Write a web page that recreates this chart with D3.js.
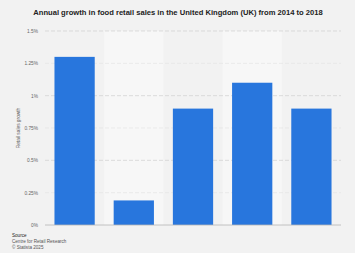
<!DOCTYPE html>
<html>
<head>
<meta charset="utf-8">
<script src="https://cdn.jsdelivr.net/npm/d3@7"></script>
<style>
  body { margin: 0; background: #f2f2f2; }
  svg { display: block; font-family: "Liberation Sans", Arial, sans-serif; }
</style>
</head>
<body>
<svg id="chart" width="355" height="253"></svg>
<script>
const years = ["2014", "2015", "2016", "2017", "2018"];
const growth = [1.30, 0.19, 0.90, 1.10, 0.90];
const tickValues = [0, 0.25, 0.5, 0.75, 1, 1.25, 1.5];
const tickLabels = ["0%", "0.25%", "0.5%", "0.75%", "1%", "1.25%", "1.5%"];

const svg = d3.select("#chart");
const width = +svg.attr("width");
const height = +svg.attr("height");
const margin = { top: 31, right: 14, bottom: 28, left: 45 };
const chartWidth = width - margin.left - margin.right;
const chartHeight = height - margin.top - margin.bottom;

svg.append("rect").attr("width", width).attr("height", height).attr("fill", "#f2f2f2");

svg.append("text")
    .attr("x", 178)
    .attr("y", 15)
    .attr("text-anchor", "middle")
    .style("font-size", "7.6px")
    .style("font-weight", "bold")
    .style("fill", "#222")
    .text("Annual growth in food retail sales in the United Kingdom (UK) from 2014 to 2018");

const g = svg.append("g").attr("transform", `translate(${margin.left},${margin.top})`);

const x = d3.scaleBand().domain(years).range([0, chartWidth]).paddingInner(0.32).paddingOuter(0.16);
const y = d3.scaleLinear().domain([0, 1.5]).range([chartHeight, 0]);

// alternating column shading
g.selectAll(".col")
    .data(years.filter((d, i) => i % 2 === 1))
    .join("rect")
    .attr("x", (d) => x(d) + x.bandwidth() / 2 - x.step() / 2)
    .attr("y", 0)
    .attr("width", x.step())
    .attr("height", chartHeight)
    .attr("fill", "#f7f7f7");

// gridlines
g.selectAll(".grid")
    .data(tickValues.slice(1))
    .join("line")
    .attr("x1", 0)
    .attr("x2", chartWidth)
    .attr("y1", (d) => y(d))
    .attr("y2", (d) => y(d))
    .attr("stroke", (d, i) => (i % 2 === 0 ? "#e4e4e4" : "#d0d0d0"))
    .attr("stroke-width", 0.7)
    .attr("stroke-dasharray", "4,2");

const yAxis = d3.axisLeft(y)
    .tickValues(tickValues)
    .tickFormat((d, i) => tickLabels[i])
    .tickSize(0)
    .tickPadding(7);
const yAxisGroup = g.append("g").call(yAxis);
yAxisGroup.select(".domain").remove();
yAxisGroup.selectAll("text").style("font-size", "4.8px").style("fill", "#666")
    .style("font-family", "Liberation Sans, Arial, sans-serif");

g.selectAll(".bar")
    .data(growth)
    .join("rect")
    .attr("class", "bar")
    .attr("x", (d, i) => x(years[i]))
    .attr("y", (d) => y(d))
    .attr("width", x.bandwidth())
    .attr("height", (d) => chartHeight - y(d))
    .attr("fill", "#2876dd");

g.append("line")
    .attr("x1", 0)
    .attr("x2", chartWidth)
    .attr("y1", chartHeight)
    .attr("y2", chartHeight)
    .attr("stroke", "#b5b5b5")
    .attr("stroke-width", 0.8);

svg.append("text")
    .attr("transform", `translate(20,${margin.top + chartHeight / 2}) rotate(-90)`)
    .attr("text-anchor", "middle")
    .style("font-size", "4.8px")
    .style("fill", "#666")
    .text("Retail sales growth");

const source = svg.append("g").style("font-size", "4.6px").style("fill", "#555");
source.append("text").attr("x", 12).attr("y", 237).style("fill", "#222").text("Source");
source.append("text").attr("x", 12).attr("y", 243).text("Centre for Retail Research");
source.append("text").attr("x", 12).attr("y", 249).text("© Statista 2025");
</script>
</body>
</html>
